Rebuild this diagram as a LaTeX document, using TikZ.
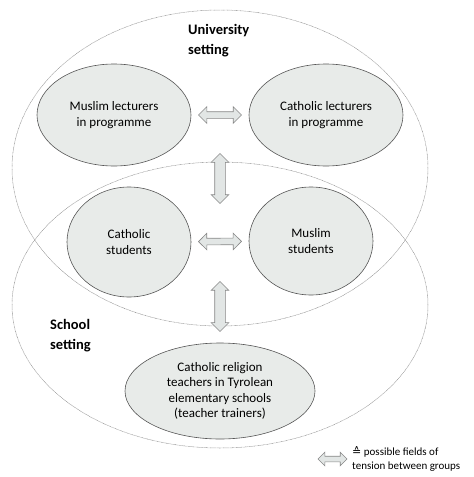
\documentclass[tikz,border=0pt]{standalone}
\usepackage{fontspec}
\setmainfont{Carlito}
\newfontfamily\symbolfont{DejaVu Sans}
\usetikzlibrary{shapes.geometric,shapes.arrows,decorations.markings}
\definecolor{groupfill}{RGB}{232,235,233}
\definecolor{groupline}{RGB}{85,85,85}
\definecolor{arrowfill}{RGB}{226,230,229}
\definecolor{arrowline}{RGB}{135,135,135}
\definecolor{settingline}{RGB}{140,140,140}

\begin{document}
\begin{tikzpicture}[x=1pt, y=-1pt,
  group/.style={ellipse, draw=groupline, fill=groupfill, line width=0.6pt, inner sep=0pt,
    align=center, font=\fontsize{13}{15.5}\selectfont},
  setting/.style={draw=settingline, line width=0.5pt, dash pattern=on 0.7pt off 0.6pt},
  settinglabel/.style={anchor=north west, align=left, inner sep=0pt, font=\fontsize{14.5}{20}\selectfont\bfseries},
  blockarrow/.style={double arrow, draw=arrowline, fill=arrowfill, line width=0.6pt,
    inner xsep=0pt, double arrow tip angle=90},
  pairtension/.style={postaction={decorate}, decoration={markings, mark=at position 0.5 with
    {\node[blockarrow, transform shape, minimum height=43pt, inner ysep=3pt, double arrow head extend=5pt] {};}}},
  crosstension/.style={postaction={decorate}, decoration={markings, mark=at position #1 with
    {\node[blockarrow, transform shape, minimum height=50pt, inner ysep=5pt, double arrow head extend=3.5pt] {};}}}]
  \useasboundingbox (0,0) rectangle (474,477);
  % the two settings, overlapping
  \draw[setting] (220,168) ellipse [x radius=208, y radius=158];
  \draw[setting] (220,305) ellipse [x radius=208, y radius=143];
  \node[settinglabel] (unilabel) at (188,24) {University\\setting};
  \node[settinglabel] (schoollabel) at (50,319) {School\\setting};
  % groups
  \node[group, minimum width=154pt, minimum height=102pt] (mlect) at (114,115) {Muslim lecturers\\in programme};
  \node[group, minimum width=154pt, minimum height=102pt] (clect) at (326,115) {Catholic lecturers\\in programme};
  \node[group, minimum width=124pt, minimum height=110pt] (cstud) at (129,242) {Catholic\\students};
  \node[group, minimum width=124pt, minimum height=108pt] (mstud) at (311,241) {Muslim\\students};
  \node[group, minimum width=190pt, minimum height=96pt] (teacher) at (220,391)
    {Catholic religion\\teachers in Tyrolean\\elementary schools\\(teacher trainers)};
  \coordinate (lecmid) at (220,115);
  \coordinate (stumid) at (220,242);
  % fields of tension
  \path[pairtension] (mlect) -- (clect);
  \path[pairtension] (cstud) -- (mstud);
  \path[crosstension=0.5] (lecmid) -- (stumid);
  \path[crosstension=0.64] (stumid) -- (teacher);
  % legend
  \node[blockarrow, minimum height=29pt, inner ysep=2.5pt, double arrow head extend=4pt] (legarrow) at (332.5,459) {};
  \node[anchor=west, align=left, inner sep=0pt, font=\fontsize{11}{14}\selectfont] (legtext) at (352,459)
    {{\symbolfont ≙} possible fields of\\tension between groups};
\end{tikzpicture}
\end{document}
